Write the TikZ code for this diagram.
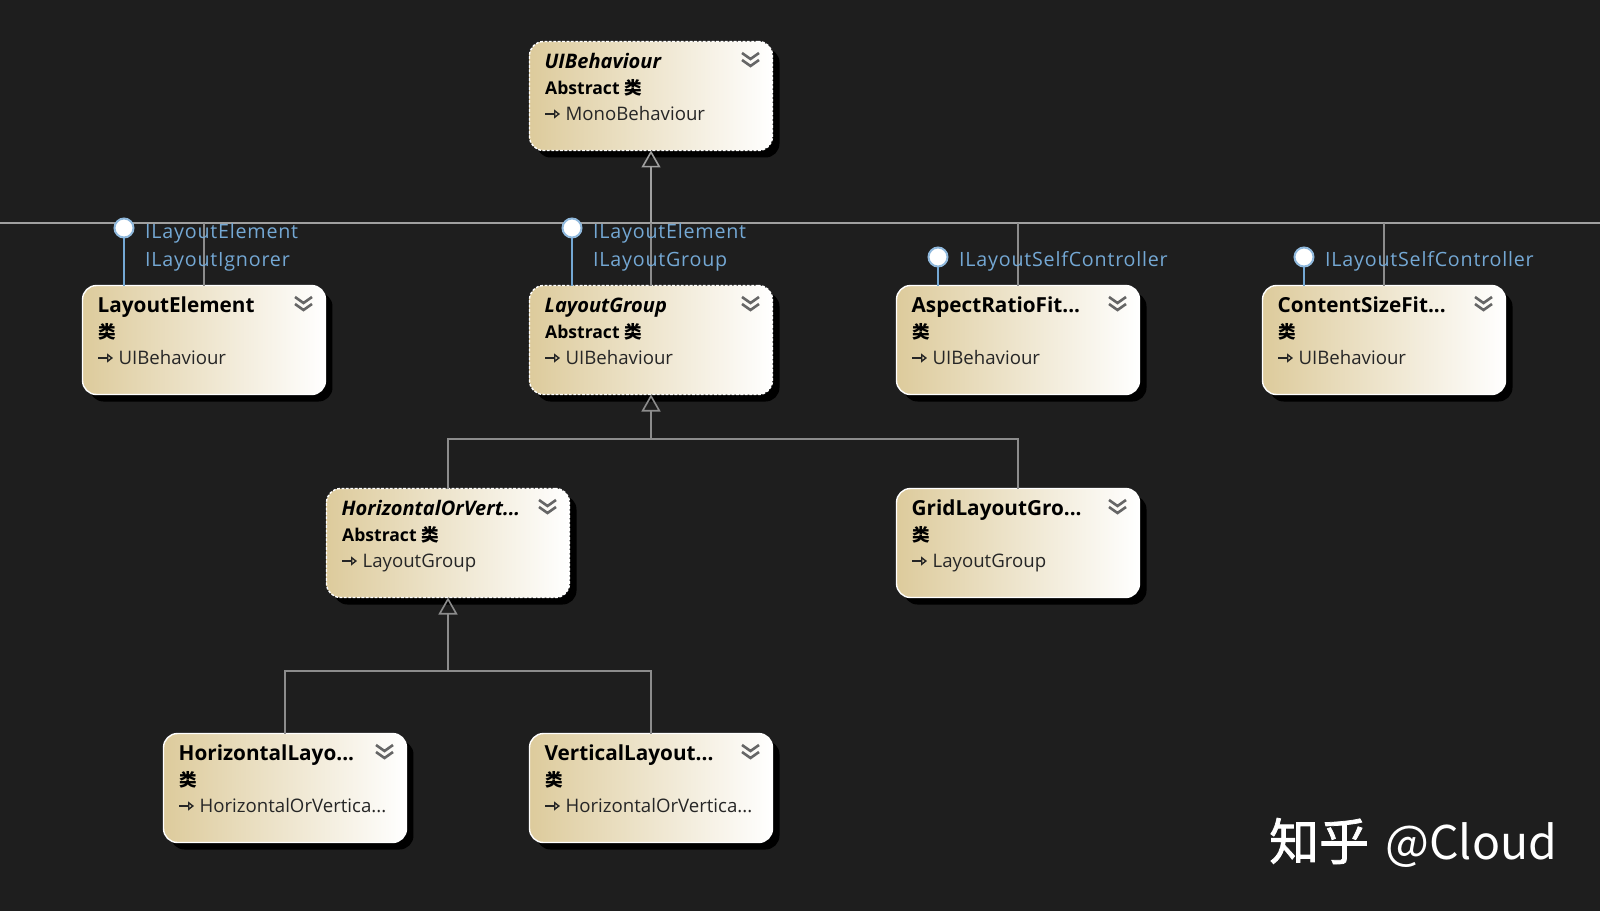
\documentclass[tikz,border=0pt]{standalone}
\usepackage{fontspec}
\usepackage{xcolor}
\setmainfont{Open Sans}
\newfontfamily\cjkfont{Noto Sans CJK SC}
\newfontfamily\stampfont[FakeBold=1.5]{Noto Sans CJK SC}
\newfontfamily\ifacefont[LetterSpace=4]{Open Sans}
\usetikzlibrary{arrows.meta, shadows, calc}
\definecolor{canvasgray}{RGB}{30, 30, 30}
\definecolor{boxtan}{RGB}{221, 203, 156}
\definecolor{linegray}{RGB}{140, 140, 140}
\definecolor{busgray}{RGB}{160, 160, 160}
\definecolor{ifaceblue}{RGB}{116, 168, 212}
\newcommand{\italtitle}{\fontsize{28.5}{32}\selectfont\itshape}

\tikzset{
  classbox/.style={rounded corners=0.7cm, minimum width=12.15cm, minimum height=5.45cm, outer sep=0pt,
    left color=boxtan, right color=white, draw=white, line width=0.07cm,
    drop shadow={shadow xshift=0.35cm, shadow yshift=-0.35cm, fill=black, opacity=1}},
  abstractbox/.style={classbox, dash pattern=on 0.14cm off 0.08cm},
  boxtitle/.style={anchor=base west, inner sep=0pt, font=\fontsize{29.5}{32}\selectfont\bfseries},
  boxkind/.style={anchor=base west, inner sep=0pt, font=\fontsize{25}{30}\selectfont\bfseries},
  boxbase/.style={anchor=base west, inner sep=0pt, font=\fontsize{26.5}{30}\selectfont, text=black!85},
  ifacelabel/.style={anchor=base west, inner sep=0pt, text=ifaceblue, font=\ifacefont\fontsize{28}{30}\selectfont},
  lollipop/.style={circle, minimum size=0.95cm, inner sep=0pt, outer sep=0pt, fill=white, draw=ifaceblue!80, line width=0.1cm},
  lollistem/.style={draw=ifaceblue, line width=0.09cm},
  treeline/.style={draw=linegray, line width=0.08cm},
  inherit/.style={treeline, -{Triangle[open, length=0.85cm, width=0.95cm, line width=0.08cm]}},
  chevron/.style={draw=black!60, line width=0.13cm},
  baseicon/.style={draw=black!85, line width=0.08cm, -{Triangle[open, length=0.3cm, width=0.45cm, line width=0.07cm]}}
}

% id, centre x, centre y, box style, title, kind, base
\newcommand{\classnode}[7]{
  \node[#4] (#1) at (#2,#3) {};
  \node[boxtitle] (#1-title) at ({#2-106.5},{#3-27.5}) {#5};
  \node[boxkind] (#1-kind) at ({#2-106},{#3-1.5}) {#6};
  \node[boxbase] (#1-base) at ({#2-85.5},{#3+24}) {#7};
  \draw[baseicon] ({#2-106},{#3+18}) -- ({#2-91},{#3+18});
  \draw[chevron] ({#2+91},{#3-43}) -- ({#2+99.5},{#3-37}) -- ({#2+108},{#3-43});
  \draw[chevron] ({#2+91},{#3-36}) -- ({#2+99.5},{#3-30}) -- ({#2+108},{#3-36});
}

\begin{document}
\begin{tikzpicture}[x=0.05cm, y=-0.05cm]
  \fill[canvasgray] (0,0) rectangle (1600,911);
  \useasboundingbox (0,0) rectangle (1600,911);

  % interface bar
  \coordinate (busleft) at (0,223);
  \coordinate (busright) at (1600,223);
  \coordinate (lgjoin) at (651,439);
  \coordinate (hovjoin) at (448,671);
  \draw[draw=busgray, line width=0.11cm] (busleft) -- (busright);

  % classes
  \classnode{uibehaviour}{651}{96}{abstractbox}{\italtitle UIBehaviour}{Abstract {\cjkfont 类}}{MonoBehaviour}
  \classnode{lelement}{204}{340}{classbox}{LayoutElement}{{\cjkfont 类}}{UIBehaviour}
  \classnode{lgroup}{651}{340}{abstractbox}{\italtitle LayoutGroup}{Abstract {\cjkfont 类}}{UIBehaviour}
  \classnode{aspect}{1018}{340}{classbox}{AspectRatioFit...}{{\cjkfont 类}}{UIBehaviour}
  \classnode{content}{1384}{340}{classbox}{ContentSizeFit...}{{\cjkfont 类}}{UIBehaviour}
  \classnode{hov}{448}{543}{abstractbox}{\italtitle HorizontalOrVert...}{Abstract {\cjkfont 类}}{LayoutGroup}
  \classnode{grid}{1018}{543}{classbox}{GridLayoutGro...}{{\cjkfont 类}}{LayoutGroup}
  \classnode{hlayout}{285}{788}{classbox}{HorizontalLayo...}{{\cjkfont 类}}{HorizontalOrVertica...}
  \classnode{vlayout}{651}{788}{classbox}{VerticalLayout...}{{\cjkfont 类}}{HorizontalOrVertica...}

  % inheritance
  \draw[inherit, draw=busgray, line width=0.11cm] (uibehaviour.south |- busleft) -- (uibehaviour.south);
  \draw[treeline] (lelement.north) -- (lelement.north |- busleft);
  \draw[treeline] (lgroup.north) -- (lgroup.north |- busleft);
  \draw[treeline] (aspect.north) -- (aspect.north |- busleft);
  \draw[treeline] (content.north) -- (content.north |- busleft);
  \draw[treeline] (hov.north) |- (lgjoin);
  \draw[treeline] (grid.north) |- (lgjoin);
  \draw[inherit] (lgjoin) -- (lgroup.south);
  \draw[treeline] (hlayout.north) |- (hovjoin);
  \draw[treeline] (vlayout.north) |- (hovjoin);
  \draw[inherit] (hovjoin) -- (hov.south);

  % interfaces
  \node[lollipop] (lolelement) at (124,228) {};
  \node[lollipop] (lolgroup) at (572,228) {};
  \node[lollipop] (lolaspect) at (938,257) {};
  \node[lollipop] (lolcontent) at (1304,257) {};
  \draw[lollistem] (lolelement) -- (lolelement |- lelement.north);
  \draw[lollistem] (lolgroup) -- (lolgroup |- lgroup.north);
  \draw[lollistem] (lolaspect) -- (lolaspect |- aspect.north);
  \draw[lollistem] (lolcontent) -- (lolcontent |- content.north);
  \node[ifacelabel] (ifelement) at (145,238) {ILayoutElement};
  \node[ifacelabel] (ifignorer) at (145,266.5) {ILayoutIgnorer};
  \node[ifacelabel] (ifgelement) at (593,238) {ILayoutElement};
  \node[ifacelabel] (ifggroup) at (593,266.5) {ILayoutGroup};
  \node[ifacelabel] (ifaspect) at (959,266.5) {ILayoutSelfController};
  \node[ifacelabel] (ifcontent) at (1325,266.5) {ILayoutSelfController};

  \node[anchor=west, inner sep=0pt, text=white, font=\cjkfont\fontsize{66}{74}\selectfont] (stamp) at (1269,843) {{\stampfont\fontsize{71}{74}\selectfont 知乎}\hspace{0.3cm} @Cloud};
\end{tikzpicture}
\end{document}
